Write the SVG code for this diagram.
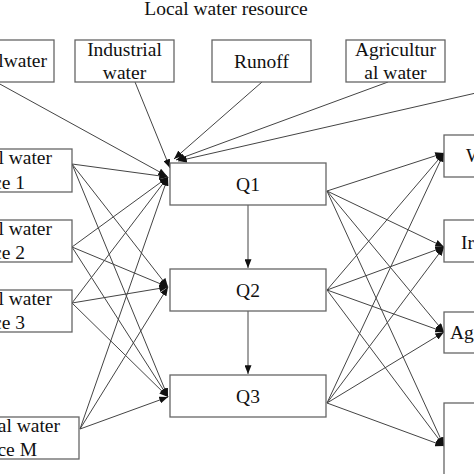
<svg xmlns="http://www.w3.org/2000/svg" width="474" height="474" viewBox="0 0 474 474">
<defs>
<marker id="ah" viewBox="0 0 10 8" refX="10" refY="4" markerWidth="9" markerHeight="7" markerUnits="userSpaceOnUse" orient="auto">
<path d="M0,0 L10,4 L0,8 z" fill="#111"/>
</marker>
<style>
.box{fill:#fff;stroke:#666;stroke-width:1.3}
.t{font-family:"Liberation Serif","Times New Roman",serif;font-size:19.5px;fill:#111}
.c{text-anchor:middle}
.e{text-anchor:end}
#connectors line{stroke:#444;stroke-width:1;marker-end:url(#ah)}
#connectors line.plain{marker-end:none}
</style>
</defs>
<rect width="474" height="474" fill="#fff"/>
<text class="t c" x="226" y="15">Local water resource</text>

<g id="connectors">
<!-- top sources -->
<line x1="-2" y1="83" x2="167" y2="176"/>
<line x1="135" y1="82" x2="170" y2="168"/>
<line x1="262" y1="82" x2="174" y2="159"/>
<line x1="388" y1="82" x2="176" y2="160"/>
<line x1="476" y1="93" x2="178" y2="161"/>
<!-- left sources to Q -->
<line x1="72" y1="164" x2="168" y2="177"/>
<line x1="72" y1="164" x2="168" y2="287"/>
<line x1="72" y1="164" x2="168" y2="397"/>
<line x1="72" y1="247" x2="168" y2="177"/>
<line x1="72" y1="247" x2="168" y2="287"/>
<line x1="72" y1="247" x2="168" y2="397"/>
<line x1="72" y1="303" x2="168" y2="177"/>
<line x1="72" y1="303" x2="168" y2="287"/>
<line x1="72" y1="303" x2="168" y2="397"/>
<line x1="80" y1="429" x2="168" y2="177"/>
<line x1="80" y1="429" x2="168" y2="287"/>
<line x1="80" y1="429" x2="168" y2="397"/>
<!-- vertical -->
<line x1="248" y1="205" x2="248" y2="268"/>
<line x1="248" y1="311" x2="248" y2="374"/>
<!-- Q to right -->
<line x1="327" y1="191" x2="444" y2="153"/>
<line x1="327" y1="191" x2="444" y2="247"/>
<line x1="327" y1="191" x2="444" y2="332"/>
<line x1="327" y1="191" x2="444" y2="446"/>
<line x1="327" y1="290" x2="444" y2="153"/>
<line x1="327" y1="290" x2="444" y2="247"/>
<line x1="327" y1="290" x2="444" y2="332"/>
<line x1="327" y1="290" x2="444" y2="446"/>
<line x1="327" y1="403" x2="444" y2="153"/>
<line x1="327" y1="403" x2="444" y2="247"/>
<line x1="327" y1="403" x2="444" y2="332"/>
<line x1="327" y1="403" x2="444" y2="446"/>
</g>

<g id="n-groundwater"><rect class="box" x="-10" y="40" width="64" height="42"/><text class="t e" x="47" y="67">lwater</text></g>
<g id="n-industrial"><rect class="box" x="75" y="40" width="99" height="42"/><text class="t c" x="124.5" y="56">Industrial</text><text class="t c" x="124.5" y="79">water</text></g>
<g id="n-runoff"><rect class="box" x="212" y="40" width="99" height="42"/><text class="t c" x="261.5" y="68">Runoff</text></g>
<g id="n-agri"><rect class="box" x="346" y="40" width="99" height="42"/><text class="t c" x="395.5" y="56">Agricultur</text><text class="t c" x="395.5" y="79">al water</text></g>

<g id="n-src1"><rect class="box" x="-30" y="149" width="102" height="43"/><text class="t e" x="52" y="164">l water</text><text class="t e" x="25" y="189">ce 1</text></g>
<g id="n-src2"><rect class="box" x="-30" y="220" width="102" height="42"/><text class="t e" x="52" y="235">l water</text><text class="t e" x="25" y="259">ce 2</text></g>
<g id="n-src3"><rect class="box" x="-30" y="290" width="102" height="42"/><text class="t e" x="52" y="305">l water</text><text class="t e" x="25" y="329">ce 3</text></g>
<g id="n-srcM"><rect class="box" x="-30" y="417" width="109" height="42"/><text class="t e" x="60" y="432">al water</text><text class="t e" x="37" y="456">ce M</text></g>

<g id="n-q1"><rect class="box" x="170" y="163" width="156" height="42"/><text class="t c" x="248" y="191">Q1</text></g>
<g id="n-q2"><rect class="box" x="170" y="269" width="156" height="42"/><text class="t c" x="248" y="297">Q2</text></g>
<g id="n-q3"><rect class="box" x="170" y="375" width="156" height="42"/><text class="t c" x="248" y="403">Q3</text></g>

<g id="n-w"><rect class="box" x="444" y="135" width="60" height="42"/><text class="t" x="466" y="162">W</text></g>
<g id="n-ir"><rect class="box" x="444" y="220" width="60" height="42"/><text class="t" x="461" y="249">Ir</text></g>
<g id="n-ag"><rect class="box" x="444" y="312" width="60" height="41"/><text class="t" x="450" y="339">Ag</text></g>
<g id="n-bottom"><rect class="box" x="444" y="403" width="60" height="90"/></g>
</svg>
